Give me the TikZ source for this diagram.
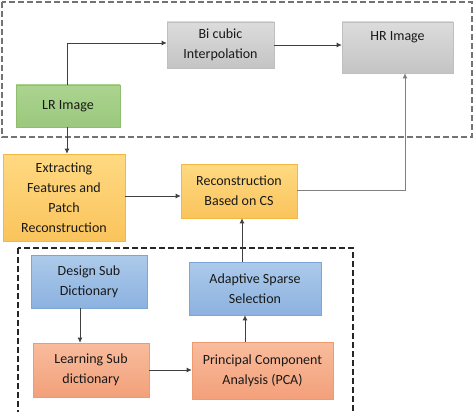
\documentclass[tikz,border=0pt]{standalone}
\usepackage{fontspec}
\setmainfont{Carlito}
\usetikzlibrary{arrows.meta}
\definecolor{grB}{HTML}{8DBF6E}
\definecolor{gyB}{HTML}{BFBFBF}
\definecolor{orB}{HTML}{F2B843}
\definecolor{blB}{HTML}{7EA6D4}
\definecolor{saB}{HTML}{EE9A72}
\tikzset{
  txt/.style={align=center, inner sep=0pt, font=\fontsize{14}{20}\selectfont, text=black!90},
  box/.style={txt, draw, line width=0.6pt},
  greenbox/.style={box, draw=grB, top color={rgb,255:red,172;green,212;blue,145}, bottom color={rgb,255:red,154;green,200;blue,124}},
  graybox/.style={box, draw=gyB, top color={rgb,255:red,220;green,220;blue,220}, bottom color={rgb,255:red,196;green,196;blue,196}},
  orangebox/.style={box, draw=orB, top color={rgb,255:red,255;green,217;blue,130}, bottom color={rgb,255:red,250;green,196;blue,92}},
  bluebox/.style={box, draw=blB, top color={rgb,255:red,172;green,202;blue,234}, bottom color={rgb,255:red,140;green,178;blue,224}},
  salmonbox/.style={box, draw=saB, top color={rgb,255:red,248;green,188;blue,156}, bottom color={rgb,255:red,243;green,160;blue,122}},
  conn/.style={draw=black!75, line width=0.8pt, -{Latex[length=5pt,width=5pt]}},
  conn2/.style={draw=black!50, line width=0.8pt, -{Latex[length=5pt,width=5pt]}},
}
\begin{document}
\begin{tikzpicture}[x=1pt,y=-1pt]
\useasboundingbox (0,0) rectangle (474,412);
% dashed frames
\draw[black!55, line width=1.3pt, dash pattern=on 6pt off 3pt] (2,2) rectangle (472,137);
\draw[black!85, line width=1.3pt, dash pattern=on 6pt off 3pt] (18,248) rectangle (353,414);
% nodes
\node[greenbox, minimum width=104, minimum height=42] (lr) at (68,106) {LR Image};
\node[graybox, minimum width=107, minimum height=46] (bc) at (220.5,45) {Bi cubic\\Interpolation};
\node[graybox, minimum width=111, minimum height=51] (hr) at (397.5,47.5) {};
\node[txt] (hrt) at (397.5,37) {HR Image};
\node[orangebox, minimum width=122, minimum height=87] (ex) at (64,197.5) {Extracting\\Features and\\Patch\\Reconstruction};
\node[orangebox, minimum width=116, minimum height=54] (rc) at (239,191) {Reconstruction\\Based on CS};
\node[bluebox, minimum width=116, minimum height=53] (ds) at (89,281.5) {Design Sub\\Dictionary};
\node[bluebox, minimum width=132, minimum height=53] (as) at (255,288.5) {Adaptive Sparse\\Selection};
\node[salmonbox, minimum width=116, minimum height=54] (ls) at (91,370) {Learning Sub\\dictionary};
\node[salmonbox, minimum width=141, minimum height=57] (pca) at (262.5,370.5) {Principal Component\\Analysis (PCA)};
% connectors
\coordinate (c1) at (67,43);
\draw[conn] (lr.north -| c1) -- (c1) -- (c1 -| bc.west);
\draw[conn] (bc.east |- 0,45) -- (hr.west |- 0,45);
\draw[conn] (lr.south -| c1) -- (ex.north -| c1);
\draw[conn] (ex.east |- 0,196) -- (rc.west |- 0,196);
\coordinate (c2) at (405,190);
\draw[conn2] (rc.east |- c2) -- (c2) -- (hr.south -| c2);
\draw[conn] (as.north -| 242,0) -- (rc.south -| 242,0);
\draw[conn] (ds.south -| 80,0) -- (ls.north -| 80,0);
\draw[conn] (ls.east |- 0,370) -- (pca.west |- 0,370);
\draw[conn] (pca.north -| 245,0) -- (as.south -| 245,0);
\end{tikzpicture}
\end{document}
